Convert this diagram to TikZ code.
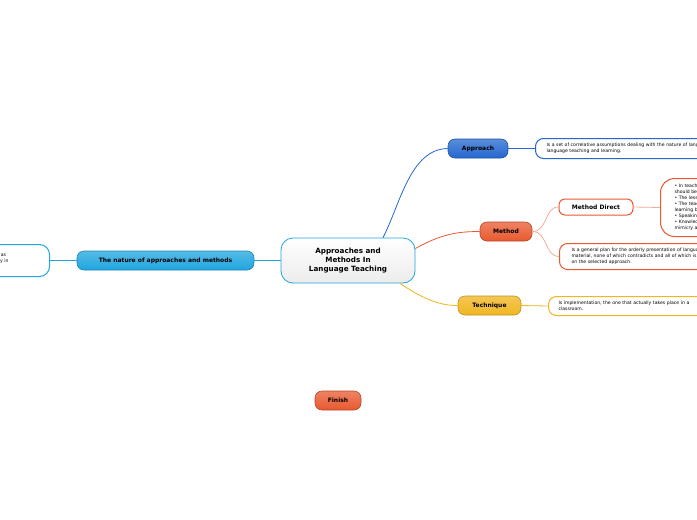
\documentclass[tikz,border=0pt]{standalone}
\usepackage{fontspec}
\setmainfont{DejaVu Sans}
\definecolor{cblue}{HTML}{2467CF}
\definecolor{corange}{HTML}{E8592F}
\definecolor{cyel}{HTML}{F0B520}
\definecolor{clblue}{HTML}{1FA5DE}
\begin{document}
\begin{tikzpicture}[x=1pt,y=-1pt,
 pill/.style={rounded corners=7pt,draw=#1!80!black,line width=0.6pt,top color=#1!75!white,bottom color=#1,minimum height=19pt,font=\fontsize{6}{7}\selectfont\bfseries,inner sep=0pt},
 tbox/.style={draw=#1,line width=1pt,fill=white,rounded corners=8pt,align=left,font=\fontsize{4.6}{6}\selectfont,inner sep=3pt,anchor=north west},
 ln/.style={draw=#1,line width=0.8pt}]
\useasboundingbox (0,0) rectangle (697,520);
\clip (0,0) rectangle (697,520);
% center
\node[draw=clblue,line width=0.8pt,rounded corners=12pt,top color=white,bottom color=gray!15,minimum width=134pt,minimum height=45pt,align=center,font=\fontsize{7.2}{9}\selectfont\bfseries] (c) at (348,260.5) {Approaches and\\Methods In\\Language Teaching};
% approach
\node[pill=cblue,minimum width=60pt] (ap) at (478,148.5) {Approach};
\node[tbox=cblue,minimum height=20pt,text width=300pt,inner xsep=11pt] (apt) at (535,138) {Is a set of correlative assumptions dealing with the nature of language and the nature of\\language teaching and learning.};
% method
\node[pill=corange,minimum width=52pt] (me) at (506,231.5) {Method};
\node[draw=corange,line width=1pt,fill=white,rounded corners=6pt,minimum width=74pt,minimum height=16pt,font=\fontsize{6}{7}\selectfont\bfseries,inner sep=0pt] (md) at (596,207) {Method Direct};
\node[tbox=corange,minimum height=58pt,text width=120pt,inner xsep=14pt,rounded corners=14pt] (mdt) at (660,178) {• In teaching the students\\should be taught in English\\• The lessons are oral\\• The teacher focuses on\\learning by doing\\• Speaking is taught first\\• Knowledge is gained by\\mimicry and memorization};
\node[tbox=corange,minimum height=26pt,text width=240pt,inner xsep=12pt] (mgt) at (559,243) {Is a general plan for the orderly presentation of language\\material, none of which contradicts and all of which is based\\on the selected approach.};
% technique
\node[pill=cyel,minimum width=63pt] (te) at (489.5,305.5) {Technique};
\node[tbox=cyel,minimum height=19pt,text width=240pt,inner xsep=10pt] (tet) at (548,296) {Is implementation, the one that actually takes place in a\\classroom.};
% left
\node[pill=clblue,minimum width=177pt] (na) at (165.5,260.5) {The nature of approaches and methods};
\node[draw=clblue,line width=1pt,fill=white,rounded corners=10pt,minimum height=32pt,text width=100pt,align=left,font=\fontsize{4.6}{6}\selectfont,anchor=north east,inner sep=3pt,inner xsep=12pt] (nat) at (50,244) {The concept was proposed as\\a model by Edward Anthony in\\1963.};
% finish
\node[pill=corange,minimum width=46pt] (fi) at (338,400.5) {Finish};
% connectors
\path (c.north)++(35,0) coordinate (c1);
\draw[ln=cblue] (c1) .. controls (400,205) and (410,149) .. (ap.west);
\draw[ln=cblue] (ap.east) -- (apt.west);
\draw[ln=corange] (c.east)++(0,-12) .. controls (440,235) and (455,231.5) .. (me.west);
\draw[ln=cyel] (c.south)++(52,0) .. controls (425,300) and (440,305.5) .. (te.west);
\draw[ln=cyel] (te.east) -- (tet.west);
\draw[ln=clblue] (c.west) -- (na.east);
\draw[ln=clblue] (na.west) -- (nat.east);
\draw[draw=corange!50,line width=0.8pt] (me.east) .. controls (548,231.5) and (544,207) .. (md.west);
\draw[draw=corange!50,line width=0.8pt] (me.east) .. controls (548,231.5) and (544,256) .. (mgt.west);
\draw[draw=corange!50,line width=0.8pt] (md.east) -- (mdt.west);
\end{tikzpicture}
\end{document}
